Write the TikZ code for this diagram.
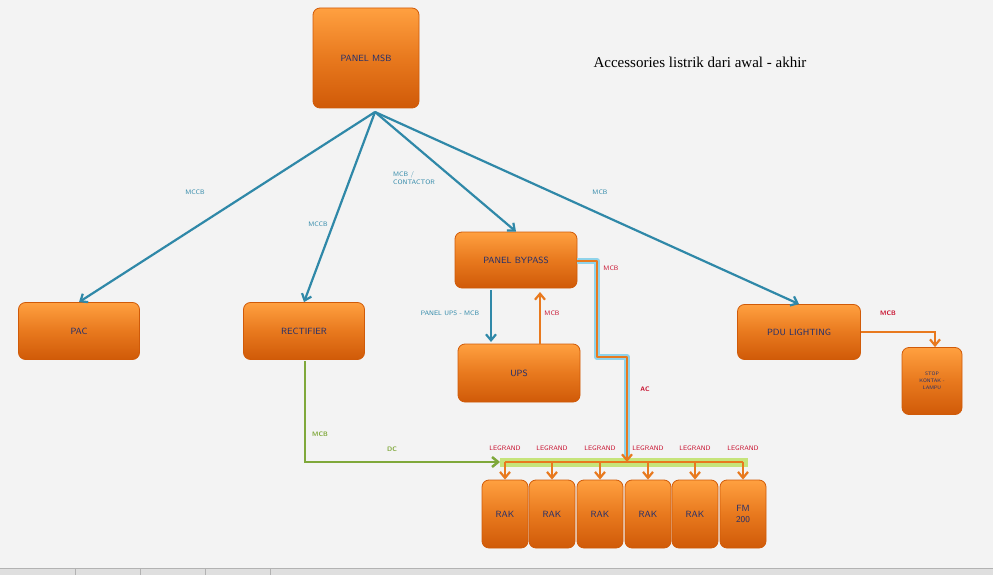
\documentclass[tikz,border=0pt]{standalone}
\usepackage{fontspec}
\setmainfont{Liberation Sans}
\newfontfamily\titlefont{Liberation Serif}
\usetikzlibrary{arrows.meta}
\definecolor{bg}{HTML}{F3F3F3}
\definecolor{teal}{HTML}{2F88A8}
\definecolor{org}{HTML}{E8791E}
\definecolor{orgl}{HTML}{FFA040}
\definecolor{orgd}{HTML}{D05A08}
\definecolor{grn}{HTML}{7FA83A}
\definecolor{navy}{HTML}{1F2E6E}
\definecolor{rd}{HTML}{C8102E}
\definecolor{glowb}{HTML}{8FD3EA}
\definecolor{glowg}{HTML}{C6E47A}
\begin{document}
\begin{tikzpicture}[x=1pt,y=-1pt,
 box/.style={draw=orgd,line width=0.8pt,rounded corners=7pt,top color=orgl,bottom color=orgd,middle color=org,
   text=navy,font=\sffamily\small,align=center,inner sep=0pt},
 tl/.style={draw=teal,line width=2.2pt,-{Straight Barb[length=6pt,width=10pt]}},
 ol/.style={draw=org,line width=2.2pt,-{Straight Barb[length=6pt,width=10pt]}},
 lb/.style={font=\sffamily\fontsize{6.5}{7.5}\selectfont,align=center},
]
\useasboundingbox (0,0) rectangle (993,575);
\fill[bg] (0,0) rectangle (993,575);
\fill[gray!25] (0,568) rectangle (993,575);
\draw[gray!60] (0,568) -- (993,568) (75,568)--(75,575) (140,568)--(140,575) (205,568)--(205,575) (270,568)--(270,575);

\node[box,minimum width=106pt,minimum height=100pt] (msb) at (366,58) {PANEL MSB};
\node[box,minimum width=121pt,minimum height=57pt] (pac) at (79,331) {PAC};
\node[box,minimum width=121pt,minimum height=57pt] (rec) at (304,331) {RECTIFIER};
\node[box,minimum width=122pt,minimum height=56pt] (byp) at (516,260) {PANEL BYPASS};
\node[box,minimum width=122pt,minimum height=58pt] (ups) at (519,373) {UPS};
\node[box,minimum width=123pt,minimum height=55pt] (pdu) at (799,332) {PDU LIGHTING};
\node[box,minimum width=60pt,minimum height=67pt,font=\sffamily\fontsize{5}{7}\selectfont] (stop) at (932,381) {STOP\\KONTAK -\\LAMPU};
\foreach \n/\x/\t in {r1/505/RAK,r2/552/RAK,r3/600/RAK,r4/648/RAK,r5/695/RAK,r6/743/FM\\200}
  \node[box,minimum width=46pt,minimum height=68pt] (\n) at (\x,514) {\t};

\node[font=\titlefont\fontsize{15}{18}\selectfont] (title) at (700,62) {Accessories listrik dari awal - akhir};

% MSB feeders
\coordinate (m) at (375,112);
\draw[tl] (m) -- (pac.north);
\draw[tl] (m) -- (rec.north);
\draw[tl] (m) -- (byp.north);
\draw[tl] (m) -- (pdu.north);
\node[lb,text=teal] (l1) at (195,192) {MCCB};
\node[lb,text=teal] (l2) at (318,224) {MCCB};
\node[lb,text=teal,align=left] (l3) at (414,178) {MCB /\\CONTACTOR};
\node[lb,text=teal] (l4) at (600,192) {MCB};

% bypass <-> ups
\draw[tl] (491,290) -- (491,342);
\node[lb,text=teal] (l5) at (450,313) {PANEL UPS - MCB};
\draw[ol] (540,344) -- (540,292);
\node[lb,text=rd] (l6) at (552,313) {MCB};

% bypass to racks (AC)
\draw[glowb,line width=6pt,line join=round] (577,261) -- (597,261) -- (597,357) -- (627,357) -- (627,458);
% green bus (DC)
\draw[glowg,line width=9pt] (500,462) -- (748,462);
\draw[grn,line width=2.5pt,-{Straight Barb[length=6pt,width=10pt]}] (305,361) -- (305,462) -- (500,462);
\node[lb,text=grn] (l7) at (320,434) {\textbf{MCB}};
\node[lb,text=grn] (l8) at (392,449) {\textbf{DC}};
\draw[org,line width=2.2pt] (505,462) -- (743,462);
\draw[ol,line join=round] (577,261) -- (597,261) -- (597,357) -- (627,357) -- (627,462);
\node[lb,text=rd] (l9) at (611,268) {MCB};
\node[lb,text=rd] (l10) at (645,389) {\textbf{AC}};
\foreach \n/\x in {r1/505,r2/552,r3/600,r4/648,r5/695,r6/743}{
  \draw[ol] (\x,462) -- (\n.north);
  \node[lb,text=rd] at (\x,448) {LEGRAND};
}

% PDU to stop
\draw[ol] (pdu.east) -- (935,332) -- (stop.north -| 935,0);
\node[lb,text=rd] (l11) at (888,313) {\textbf{MCB}};
\end{tikzpicture}
\end{document}
